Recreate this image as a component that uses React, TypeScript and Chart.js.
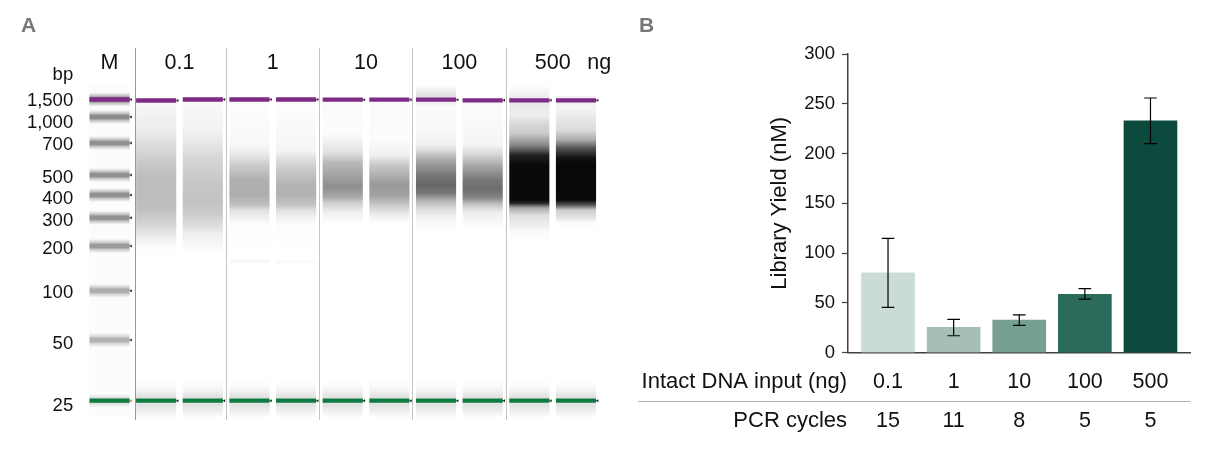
// App.tsx
import { useEffect, useRef } from 'react';
import { Chart, registerables } from 'chart.js';

Chart.register(...registerables);

const FONT = '"Liberation Sans", Arial, sans-serif';
const TEXT = '#111111';

// Panel B: library yield
const inputs = ['0.1', '1', '10', '100', '500'];
const cycles = ['15', '11', '8', '5', '5'];
const yields = [80.3, 25.4, 32.8, 58.7, 233];
const errLow = [45.6, 17, 27.5, 53.9, 209.9];
const errHigh = [114.9, 33.5, 37.9, 64.3, 255.8];
const barColors = ['#cbdbd6', '#a5bfb6', '#76a092', '#2b6b5b', '#0c4a3e'];

// Panel A: gel. Migration is in arbitrary units along the lane, top to bottom.
const groupLabels = ['M', '0.1', '1', '10', '100', '500', 'ng'];
const groupLanes = [0, 1.5, 3.5, 5.5, 7.5, 9.5, 10.5];
const separators = [0.557, 2.5, 4.5, 6.5, 8.5];
const sizeLabels = ['bp', '1,500', '1,000', '700', '500', '400', '300', '200', '100', '50', '25'];
const sizeLabelMigration = [27, 52.7, 75, 96.7, 130, 151, 172.7, 200.5, 245, 295.7, 358];
const ladderMigration = [51.5, 69, 95, 127, 147, 169.7, 198, 242.7, 292, 352.7];
const ladderGray = [130, 140, 145, 145, 145, 145, 155, 172, 178, 205];
const upperMarker = [51.5, 52.5, 51.5, 51.5, 51.5, 51.7, 51.7, 51.7, 52.3, 52.3, 52.3];
const lowerMarker = [352.7, 352.7, 352.7, 352.7, 352.7, 352.7, 352.7, 352.7, 352.7, 352.7, 352.7];

// [migration, gray] pairs read down each sample lane
const lane01a = [[52, 255], [58, 245], [82, 237], [97, 220], [112, 204], [127, 190], [152, 189], [162, 192], [177, 213], [192, 243], [202, 254], [205, 255]];
const lane01b = [[52, 255], [58, 248], [82, 242], [97, 229], [112, 213], [132, 200], [152, 194], [167, 204], [177, 221], [187, 240], [199, 248], [203, 255]];
const lane1a = [[52, 250], [60, 253], [97, 248], [107, 232], [117, 204], [132, 176], [147, 174], [157, 192], [162, 224], [172, 245], [177, 253], [210, 255], [214, 245], [216, 255]];
const lane1b = [[52, 250], [60, 253], [102, 245], [112, 221], [122, 200], [137, 180], [147, 178], [157, 196], [162, 224], [172, 245], [178, 253], [212, 255], [214, 247], [216, 255]];
const lane10a = [[52, 250], [85, 252], [105, 224], [115, 184], [139, 143], [149, 168], [155, 208], [165, 240], [174, 252], [180, 255]];
const lane10b = [[52, 250], [90, 252], [107, 240], [117, 200], [137, 153], [147, 160], [157, 200], [167, 238], [174, 252], [180, 255]];
const lane100a = [[37, 255], [42, 240], [48, 225], [52, 235], [60, 250], [82, 248], [97, 240], [102, 221], [112, 170], [127, 119], [137, 102], [145, 119], [152, 176], [162, 224], [172, 245], [180, 253], [186, 255]];
const lane100b = [[52, 245], [60, 252], [97, 245], [107, 213], [117, 170], [132, 119], [142, 110], [150, 136], [157, 200], [164, 236], [174, 248], [182, 255]];
const lane500a = [[37, 255], [42, 247], [50, 235], [57, 232], [67, 238], [77, 213], [85, 204], [97, 136], [102, 90], [107, 34], [117, 10], [152, 10], [155, 34], [160, 170], [167, 221], [177, 238], [182, 248], [189, 252], [196, 255]];
const lane500b = [[48, 245], [52, 235], [59, 245], [72, 229], [82, 221], [92, 170], [100, 85], [110, 17], [117, 8], [152, 10], [157, 85], [162, 204], [170, 229], [174, 248], [180, 255]];
const lowerHalo = [[332, 255], [340, 248], [349, 225], [357, 225], [365, 244], [369, 252]];

// Ladder lane built from its band positions and band darkness
const ladderLane = [
   [38, 252],
   ...ladderMigration.flatMap((m, i) => [
      [m - 7, 252],
      [m - 3.5, (ladderGray[i] + 250) / 2],
      [m - 1.5, ladderGray[i]],
      [m + 1.5, ladderGray[i]],
      [m + 3.5, (ladderGray[i] + 250) / 2],
      [m + 7, 252],
   ]),
   [369, 252],
];

const laneProfiles = [
   ladderLane,
   ...[lane01a, lane01b, lane1a, lane1b, lane10a, lane10b, lane100a, lane100b, lane500a, lane500b].map(
      lane => [...lane, ...lowerHalo]
   ),
];

const markerOffset = 0.46;

function laneGradient(ctx: any) {
   const profile = laneProfiles[ctx.dataIndex];
   const y = ctx.chart.scales.y;
   if (!profile || !y) return '#ffffff';
   const first = profile[0][0];
   const last = profile[profile.length - 1][0];
   const top = y.getPixelForValue(first);
   const bottom = y.getPixelForValue(last);
   // scales have no pixel range until the first layout is done
   if (!Number.isFinite(top) || !Number.isFinite(bottom)) return '#ffffff';
   const gradient = ctx.chart.ctx.createLinearGradient(0, top, 0, bottom);
   profile.forEach(([m, gray]: number[]) => {
      const g = Math.round(gray);
      gradient.addColorStop((m - first) / (last - first), `rgb(${g},${g},${g})`);
   });
   return gradient;
}

// Table rows and error bars for panel B
const yieldExtras = {
   id: 'yieldExtras',
   afterDraw(chart: any) {
      const { ctx, scales } = chart;
      ctx.save();
      ctx.strokeStyle = '#000000';
      ctx.lineWidth = 1.2;
      yields.forEach((_, i) => {
         const x = scales.x.getPixelForValue(i);
         const lo = scales.y.getPixelForValue(errLow[i]);
         const hi = scales.y.getPixelForValue(errHigh[i]);
         ctx.beginPath();
         ctx.moveTo(x, lo);
         ctx.lineTo(x, hi);
         ctx.moveTo(x - 6.3, lo);
         ctx.lineTo(x + 6.3, lo);
         ctx.moveTo(x - 6.3, hi);
         ctx.lineTo(x + 6.3, hi);
         ctx.stroke();
      });
      ctx.strokeStyle = '#b0b0b0';
      ctx.lineWidth = 1;
      ctx.beginPath();
      ctx.moveTo(8, 401.5);
      ctx.lineTo(scales.x.right, 401.5);
      ctx.stroke();
      ctx.fillStyle = TEXT;
      ctx.font = `22px ${FONT}`;
      ctx.textAlign = 'right';
      ctx.textBaseline = 'middle';
      ctx.fillText('Intact DNA input (ng)', 217, 382);
      ctx.fillText('PCR cycles', 217, 421);
      ctx.restore();
   },
};

export default function App() {
   const gelRef = useRef<HTMLCanvasElement>(null);
   const yieldRef = useRef<HTMLCanvasElement>(null);

   useEffect(() => {
      if (!gelRef.current || !yieldRef.current) return;
      document.body.style.margin = '0';

      const lanes = laneProfiles.map((_, i) => i);

      const gel = new Chart(gelRef.current, {
         type: 'bar',
         data: {
            datasets: [
               {
                  data: laneProfiles.map((p, i) => ({ x: i, y: [p[0][0], p[p.length - 1][0]] })),
                  backgroundColor: laneGradient,
                  barThickness: 39.5,
                  grouped: false,
                  order: 3,
               },
               {
                  data: upperMarker.map((m, i) => ({ x: i, y: [m - 1.8, m + 1.8] })),
                  backgroundColor: '#7f2a86',
                  barThickness: 39.5,
                  grouped: false,
                  order: 2,
               },
               {
                  data: lowerMarker.map((m, i) => ({ x: i, y: [m - 1.8, m + 1.8] })),
                  backgroundColor: '#0e7c42',
                  barThickness: 39.5,
                  grouped: false,
                  order: 2,
               },
               {
                  type: 'scatter',
                  data: [
                     ...ladderMigration.slice(0, -1).map(m => ({ x: markerOffset, y: m })),
                     ...lanes.slice(1).flatMap(i => [
                        { x: i + markerOffset, y: upperMarker[i] },
                        { x: i + markerOffset, y: lowerMarker[i] },
                     ]),
                  ],
                  pointStyle: 'triangle',
                  rotation: -90,
                  radius: 1.7,
                  borderWidth: 0,
                  backgroundColor: '#222222',
                  order: 1,
               },
               {
                  type: 'scatter',
                  data: [{ x: markerOffset, y: lowerMarker[0] }],
                  pointStyle: 'triangle',
                  rotation: -90,
                  radius: 1.7,
                  borderWidth: 0,
                  backgroundColor: '#f0703c',
                  order: 1,
               },
            ],
         } as any,
         options: {
            responsive: false,
            animation: false,
            events: [],
            layout: { autoPadding: false, padding: { top: 48, bottom: 41, right: 30.7, left: 0 } },
            plugins: { legend: { display: false }, tooltip: { enabled: false } },
            scales: {
               x: {
                  type: 'linear',
                  position: 'top',
                  min: -0.5,
                  max: 10.5,
                  offset: false,
                  grid: { display: false, offset: false },
                  border: { display: false },
                  ticks: {
                     autoSkip: false,
                     maxRotation: 0,
                     // mirrored so the labels are not clipped to the zero-height axis box
                     mirror: true,
                     padding: 2,
                     color: TEXT,
                     font: { family: FONT, size: 21.5 },
                     callback: (_v: any, i: number) => groupLabels[i],
                  },
                  afterBuildTicks: (s: any) => {
                     s.ticks = groupLanes.map(value => ({ value }));
                  },
                  afterFit: (s: any) => {
                     s.height = 0;
                  },
               },
               xSep: {
                  type: 'linear',
                  axis: 'x',
                  position: 'bottom',
                  min: -0.5,
                  max: 10.5,
                  offset: false,
                  grid: {
                     offset: false,
                     drawTicks: false,
                     lineWidth: 1,
                     color: (c: any) => (c.index === 0 ? '#999999' : '#c4c4c4'),
                  },
                  border: { display: false },
                  ticks: { display: false },
                  afterBuildTicks: (s: any) => {
                     s.ticks = separators.map(value => ({ value }));
                  },
                  afterFit: (s: any) => {
                     s.height = 0;
                  },
               },
               y: {
                  type: 'linear',
                  reverse: true,
                  min: 0,
                  max: 372,
                  grid: { display: false },
                  border: { display: false },
                  ticks: {
                     autoSkip: false,
                     padding: 5,
                     color: TEXT,
                     font: { family: FONT, size: 18.5 },
                     callback: (_v: any, i: number) => sizeLabels[i],
                  },
                  afterBuildTicks: (s: any) => {
                     s.ticks = sizeLabelMigration.map(value => ({ value }));
                  },
                  afterFit: (s: any) => {
                     s.width = 86.2;
                  },
               },
            },
         } as any,
      });

      const yieldChart = new Chart(yieldRef.current, {
         type: 'bar',
         data: {
            datasets: [
               {
                  data: yields.map((y, i) => ({ x: i, y })),
                  backgroundColor: barColors,
                  barThickness: 53,
               },
            ],
         },
         options: {
            responsive: false,
            animation: false,
            events: [],
            layout: { autoPadding: false, padding: { top: 54, bottom: 0, right: 19.5, left: 137 } },
            plugins: { legend: { display: false }, tooltip: { enabled: false } },
            scales: {
               x: {
                  type: 'linear',
                  min: -0.61,
                  max: 4.61,
                  offset: false,
                  grid: { display: false, offset: false, drawTicks: false },
                  border: { color: '#404040', width: 1.5 },
                  ticks: {
                     autoSkip: false,
                     maxRotation: 0,
                     padding: 10,
                     color: TEXT,
                     font: { family: FONT, size: 21.5, lineHeight: '39px' },
                     callback: (_v: any, i: number) => [inputs[i], cycles[i]],
                  },
                  afterBuildTicks: (s: any) => {
                     s.ticks = inputs.map((_, value) => ({ value }));
                  },
                  afterFit: (s: any) => {
                     s.height = 108.3;
                  },
               },
               y: {
                  min: 0,
                  max: 300,
                  grid: { drawOnChartArea: false, tickLength: 6, tickColor: '#404040', tickWidth: 1.2 },
                  border: { color: '#404040', width: 1.5 },
                  title: {
                     display: true,
                     text: 'Library Yield (nM)',
                     color: TEXT,
                     padding: 0,
                     font: { family: FONT, size: 22 },
                  },
                  ticks: {
                     stepSize: 50,
                     padding: 7,
                     color: TEXT,
                     font: { family: FONT, size: 18.5 },
                  },
                  afterFit: (s: any) => {
                     s.width = 81;
                  },
               },
            },
         } as any,
         plugins: [yieldExtras],
      });

      return () => {
         gel.destroy();
         yieldChart.destroy();
      };
   }, []);

   const panelLetter = (left: number) => ({
      position: 'absolute' as const,
      left,
      top: 13,
      font: `bold 21px ${FONT}`,
      color: '#77787b',
   });

   return (
      <div style={{ position: 'relative', width: 1210, height: 461, overflow: 'hidden', background: '#ffffff' }}>
         <canvas ref={gelRef} width={630} height={461} style={{ position: 'absolute', left: 0, top: 0 }}></canvas>
         <canvas ref={yieldRef} width={580} height={461} style={{ position: 'absolute', left: 630, top: 0 }}></canvas>
         <span style={panelLetter(21)}>A</span>
         <span style={panelLetter(639)}>B</span>
      </div>
   );
}
